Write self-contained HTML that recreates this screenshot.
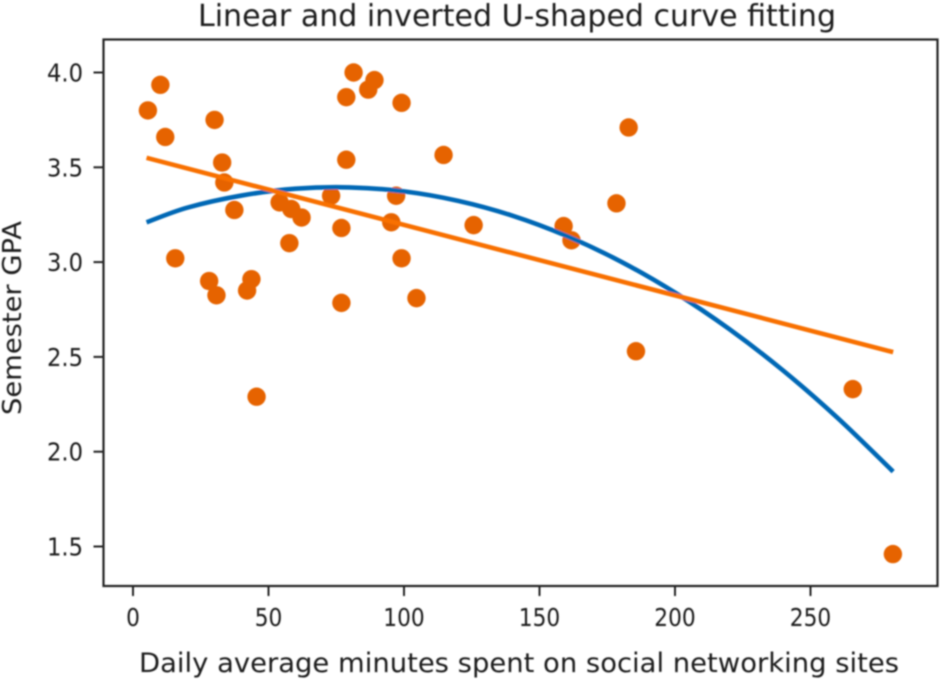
<!DOCTYPE html>
<html>
<head>
<meta charset="utf-8">
<style>
html,body{margin:0;padding:0;background:#fff;width:940px;height:679px;overflow:hidden}
svg{display:block}
text{font-family:"DejaVu Sans","Liberation Sans",sans-serif;fill:#1a1a1a}
</style>
</head>
<body>
<svg id="chart" width="940" height="679" viewBox="0 0 940 679" xmlns="http://www.w3.org/2000/svg">
<defs><filter id="soft" x="-5%" y="-5%" width="110%" height="110%"><feGaussianBlur stdDeviation="0.7"/></filter></defs>
<g id="root" filter="url(#soft)"></g>
</svg>
<script>
const minutes = [5.5,10.1,11.9,15.6,30.1,32.9,33.7,37.4,28.1,30.8,42.1,43.7,45.6,54.1,58.4,57.7,62.2,73.1,76.9,76.9,78.7,78.7,81.4,86.8,89.1,99.1,97.1,95.3,99.1,104.6,114.6,125.7,158.9,161.8,178.4,182.9,185.6,265.6,280.4];
const gpa = [3.80,3.935,3.66,3.02,3.75,3.525,3.42,3.275,2.90,2.825,2.85,2.91,2.29,3.315,3.28,3.10,3.235,3.35,3.18,2.785,3.87,3.54,4.00,3.91,3.96,3.84,3.35,3.21,3.02,2.81,3.565,3.195,3.19,3.115,3.31,3.71,2.53,2.33,1.46];
const linearX = [5,280.5];
const linearY = [3.55,2.525];
const curveX = [5,20,40,60,80,100,120,140,160,180,200,220,240,260,280.5];
const curveY = [3.21,3.287,3.351,3.387,3.394,3.373,3.323,3.245,3.138,3.003,2.839,2.647,2.427,2.178,1.895];
const xTicks = [0,50,100,150,200,250];
const yTicks = [1.5,2.0,2.5,3.0,3.5,4.0];
const yTickLabels = ["1.5","2.0","2.5","3.0","3.5","4.0"];

const NS = 'http://www.w3.org/2000/svg';
const root = document.getElementById('root');
const L = 103.5, R = 937.5, T = 39.5, B = 586;
function sx(v){ return 133 + v * 2.71; }
function sy(v){ return 72.5 + (4 - v) * 189.6; }
function add(tag, attrs, parent){
  const el = document.createElementNS(NS, tag);
  for (const k in attrs) el.setAttribute(k, attrs[k]);
  (parent || root).appendChild(el);
  return el;
}
function pathOf(xs, ys){
  return xs.map((x,i)=>(i?'L':'M')+sx(x).toFixed(2)+' '+sy(ys[i]).toFixed(2)).join(' ');
}
function smoothPathOf(xs, ys){
  const p = xs.map((x,i)=>[sx(x), sy(ys[i])]);
  let d = 'M' + p[0][0].toFixed(2) + ' ' + p[0][1].toFixed(2);
  for (let i = 0; i < p.length - 1; i++){
    const a = p[Math.max(i-1,0)], b = p[i], c = p[i+1], e = p[Math.min(i+2,p.length-1)];
    const c1x = b[0] + (c[0]-a[0])/6, c1y = b[1] + (c[1]-a[1])/6;
    const c2x = c[0] - (e[0]-b[0])/6, c2y = c[1] - (e[1]-b[1])/6;
    d += ' C' + [c1x,c1y,c2x,c2y,c[0],c[1]].map(n=>n.toFixed(2)).join(' ');
  }
  return d;
}

// scatter points
minutes.forEach((x,i)=>{
  const c = add('circle',{cx:sx(x),cy:sy(gpa[i]),r:9.2,fill:'#e66400'});
  
  
});

// fitted curves
const curve = add('path',{d:smoothPathOf(curveX,curveY),fill:'none',stroke:'#0068b5','stroke-width':4.6,'stroke-linejoin':'round'});


const linear = add('path',{d:pathOf(linearX,linearY),fill:'none',stroke:'#f87000','stroke-width':4.6});



// frame
const frame = add('rect',{x:L,y:T,width:R-L,height:B-T,fill:'none',stroke:'#222','stroke-width':2.2});



// x axis ticks
xTicks.forEach(v=>{
  const t = add('line',{x1:sx(v),x2:sx(v),y1:B,y2:B+10,stroke:'#222','stroke-width':2});
  
  
  const s = String(v);
  const lab = add('text',{x:sx(v),y:626,'text-anchor':'middle','font-size':25,textLength:s.length*13.8,lengthAdjust:'spacingAndGlyphs'});
  
  
  lab.textContent = s;
});

// y axis ticks
yTicks.forEach((v,i)=>{
  const t = add('line',{x1:L-10,x2:L,y1:sy(v),y2:sy(v),stroke:'#222','stroke-width':2});
  
  
  const lab = add('text',{x:83,y:sy(v)+9,'text-anchor':'end','font-size':25,textLength:36,lengthAdjust:'spacingAndGlyphs'});
  
  
  lab.textContent = yTickLabels[i];
});

// titles
const title = add('text',{x:517,y:26,'text-anchor':'middle','font-size':30,textLength:638,lengthAdjust:'spacingAndGlyphs'});


title.textContent = 'Linear and inverted U-shaped curve fitting';

const xTitle = add('text',{x:519,y:672,'text-anchor':'middle','font-size':27,textLength:760,lengthAdjust:'spacingAndGlyphs'});


xTitle.textContent = 'Daily average minutes spent on social networking sites';

const yTitle = add('text',{x:0,y:0,'text-anchor':'middle','font-size':26,textLength:194,lengthAdjust:'spacingAndGlyphs',transform:'translate(21,318) rotate(-90)'});


yTitle.textContent = 'Semester GPA';
</script>
</body>
</html>
